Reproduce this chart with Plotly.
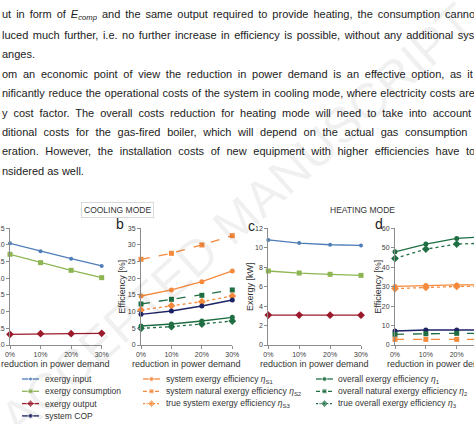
import re
import plotly.graph_objects as go

# x values: reduction in power demand [%]
REDUCTION = [0, 10, 20, 30]
TICK_LABELS = ['0%', '10%', '20%', '30%']

# a - cooling mode, exergy [kW]
COOL_EXERGY_INPUT = [3.05, 2.81, 2.59, 2.37]
COOL_EXERGY_CONSUMPTION = [2.72, 2.47, 2.24, 2.02]
COOL_EXERGY_OUTPUT = [0.32, 0.34, 0.34, 0.35]

# b - cooling mode, efficiency [%]
COOL_SYS_EFF = [14.7, 16.5, 19.0, 22.2]
COOL_SYS_NAT_EFF = [25.7, 27.5, 30.0, 32.8]
COOL_SYS_TRUE_EFF = [10.5, 11.8, 13.0, 14.7]
COOL_OVERALL_EFF = [5.7, 6.3, 7.2, 8.3]
COOL_OVERALL_NAT_EFF = [12.3, 13.7, 14.9, 16.5]
COOL_OVERALL_TRUE_EFF = [5.0, 5.5, 6.3, 7.2]
COOL_COP = [9.2, 10.2, 11.7, 13.5]

# c - heating mode, exergy [kW]
HEAT_EXERGY_INPUT = [10.8, 10.48, 10.31, 10.24]
HEAT_EXERGY_CONSUMPTION = [7.61, 7.40, 7.27, 7.16]
HEAT_EXERGY_OUTPUT = [3.08, 3.08, 3.07, 3.07]

# d - heating mode, efficiency [%]
HEAT_SYS_EFF = [30.1, 30.6, 30.9, 30.9]
HEAT_SYS_NAT_EFF = [2.9, 2.9, 2.9, 2.9]
HEAT_SYS_TRUE_EFF = [29.0, 29.6, 30.1, 30.1]
HEAT_OVERALL_EFF = [47.9, 51.9, 54.8, 55.7]
HEAT_OVERALL_NAT_EFF = [5.5, 5.8, 6.0, 6.0]
HEAT_OVERALL_TRUE_EFF = [44.5, 49.3, 51.9, 52.4]
HEAT_COP = [7.2, 7.7, 7.7, 7.7]

# body text above the figure, cut at both page edges.
# '|' marks the point that sits at the given x (px) in the justified original.
PARAGRAPH = [
    ('ut in form of <i>E</i><sub><i>comp</i></sub> and the same output required to provide heating, the consumption canno|t be', 474),
    ('luced much further, i.e. no further increase in efficiency is possible, without any additional sys|tem', 474),
    ('anges.', None),
    ('om an economic point of view the reduction in power demand is an effective option, as it| can', 472),
    ('nificantly reduce the operational costs of the system in cooling mode, where electricity costs are| the', 474),
    ('y cost factor. The overall costs reduction for heating mode will need to take into account| the', 471),
    ('ditional costs for the gas-fired boiler, which will depend on the actual gas consumption| under', 467),
    ('eration. However, the installation costs of new equipment with higher efficiencies have to| be', 475),
    ('nsidered as well.', None),
]
TEXT_SIZE = 11

W, H = 474, 424
FONT = 'Liberation Sans, Arial, sans-serif'
ORANGE = '#f58a3c'
GREEN = '#1f6e43'

# Arial / Liberation Sans advance widths (1/1000 em) for justification
ARIAL = {' ': 278, 'a': 556, 'b': 556, 'c': 500, 'd': 556, 'e': 556, 'f': 278, 'g': 556, 'h': 556,
         'i': 222, 'j': 222, 'k': 500, 'l': 222, 'm': 833, 'n': 556, 'o': 556, 'p': 556, 'q': 556,
         'r': 333, 's': 500, 't': 278, 'u': 556, 'v': 500, 'w': 722, 'x': 500, 'y': 500, 'z': 500,
         ',': 278, '.': 278, '-': 333, 'E': 667, 'T': 611, 'H': 722, 'F': 611}

# name -> (color, dash, symbol, marker size)
STYLES = {
    'exergy input': ('#4f7db8', 'solid', 'circle', 4),
    'exergy consumption': ('#8db552', 'solid', 'square', 5),
    'exergy output': ('#9b1b2c', 'solid', 'diamond', 6),
    'system COP': ('#1d2264', 'solid', 'circle', 5),
    'sys': (ORANGE, 'solid', 'circle', 5),
    'sys_nat': (ORANGE, 'dash', 'square', 5),
    'sys_true': (ORANGE, 'dot', 'diamond', 6),
    'ov': (GREEN, 'solid', 'circle', 5),
    'ov_nat': (GREEN, 'dash', 'square', 5),
    'ov_true': (GREEN, 'dot', 'diamond', 6),
}

LEGEND_COLUMNS = [
    (22, 43, [('exergy input', 'exergy input'),
              ('exergy consumption', 'exergy consumption'),
              ('exergy output', 'exergy output'),
              ('system COP', 'system COP')]),
    (143, 164, [('sys', 'system exergy efficiency <i>η</i><sub>S1</sub>'),
                ('sys_nat', 'system natural exergy efficiency <i>η</i><sub>S2</sub>'),
                ('sys_true', 'true system exergy efficiency <i>η</i><sub>S3</sub>')]),
    (316, 336, [('ov', 'overall exergy efficiency <i>η</i><sub>1</sub>'),
                ('ov_nat', 'overall natural exergy efficiency <i>η</i><sub>2</sub>'),
                ('ov_true', 'true overall exergy efficiency <i>η</i><sub>3</sub>')]),
]
LEGEND_TOP = 379
LEGEND_ROW = 12.3


def px_x(p):
    return p / W


def px_y(p):
    return 1 - p / H


def text_width(html, size):
    """Rough rendered width of a line (sub text at 70%)."""
    total = 0.0
    for part in re.split(r'(<sub>.*?</sub>)', html):
        scale = 0.7 if part.startswith('<sub>') else 1.0
        plain = re.sub(r'<[^>]+>', '', part)
        total += sum(ARIAL.get(ch, 556) for ch in plain) * scale
    return total * size / 1000


def justify(line, target):
    """Return html with word-spacing that puts the '|' mark at target px."""
    text = line.replace('|', '')
    if target is None:
        return text
    prefix = line.split('|')[0]
    extra = (target - 1 - text_width(prefix, TEXT_SIZE)) / max(prefix.count(' '), 1)
    return f'<span style="word-spacing:{extra:.2f}px">{text}</span>'


def add_series(fig, key, values, axis):
    color, dash, symbol, size = STYLES[key]
    fig.add_trace(go.Scatter(
        x=REDUCTION, y=values, mode='lines+markers',
        line=dict(color=color, width=1.3, dash=dash),
        marker=dict(color=color, symbol=symbol, size=size),
        xaxis='x' + axis, yaxis='y' + axis,
        showlegend=False, cliponaxis=False, hoverinfo='x+y',
    ))


def build_figure():
    fig = go.Figure()

    panels = {
        '': [('exergy input', COOL_EXERGY_INPUT), ('exergy consumption', COOL_EXERGY_CONSUMPTION),
             ('exergy output', COOL_EXERGY_OUTPUT)],
        '2': [('sys_nat', COOL_SYS_NAT_EFF), ('sys', COOL_SYS_EFF), ('ov_nat', COOL_OVERALL_NAT_EFF),
              ('sys_true', COOL_SYS_TRUE_EFF), ('system COP', COOL_COP), ('ov', COOL_OVERALL_EFF),
              ('ov_true', COOL_OVERALL_TRUE_EFF)],
        '3': [('exergy input', HEAT_EXERGY_INPUT), ('exergy consumption', HEAT_EXERGY_CONSUMPTION),
              ('exergy output', HEAT_EXERGY_OUTPUT)],
        '4': [('ov', HEAT_OVERALL_EFF), ('ov_true', HEAT_OVERALL_TRUE_EFF), ('sys', HEAT_SYS_EFF),
              ('sys_true', HEAT_SYS_TRUE_EFF), ('system COP', HEAT_COP), ('ov_nat', HEAT_OVERALL_NAT_EFF),
              ('sys_nat', HEAT_SYS_NAT_EFF)],
    }
    for axis, series in panels.items():
        for key, values in series:
            add_series(fig, key, values, axis)

    # legend keys drawn on a hidden helper axis (pixel units)
    for x0, _, rows in LEGEND_COLUMNS:
        for i, (key, _) in enumerate(rows):
            color, dash, symbol, size = STYLES[key]
            ry = LEGEND_TOP + LEGEND_ROW * i
            key_dash = {'solid': 'solid', 'dash': '4px,2px', 'dot': '2px,1.5px'}[dash]
            fig.add_trace(go.Scatter(
                x=[x0, x0 + 8.5, x0 + 17], y=[ry, ry, ry], mode='lines+markers',
                line=dict(color=color, width=1.3, dash=key_dash),
                marker=dict(color=color, symbol=symbol, size=[0, size, 0]),
                xaxis='x5', yaxis='y5', showlegend=False, hoverinfo='skip',
            ))

    base_y = dict(domain=[px_y(345), px_y(228.3)])
    axis_style = dict(showline=True, linecolor='#8c8c8c', linewidth=1, ticks='outside', ticklen=3,
                      tickcolor='#8c8c8c', tickfont=dict(size=7, color='#404040', family=FONT),
                      showgrid=False, zeroline=False, automargin=False, fixedrange=True)
    x_style = dict(axis_style, tickvals=REDUCTION, ticktext=TICK_LABELS)

    fig.update_layout(
        xaxis=dict(x_style, domain=[px_x(10), px_x(101.7)], range=[0, 30], anchor='y'),
        yaxis=dict(axis_style, **base_y, range=[0, 3.5], dtick=0.5, tickformat='.1f', anchor='x'),
        xaxis2=dict(x_style, domain=[px_x(141), px_x(232.3)], range=[0, 30], anchor='y2'),
        yaxis2=dict(axis_style, **base_y, range=[0, 35], dtick=5, anchor='x2'),
        xaxis3=dict(x_style, domain=[px_x(268.3), px_x(361)], range=[0, 30], anchor='y3'),
        yaxis3=dict(axis_style, **base_y, range=[0, 12], dtick=2, anchor='x3'),
        xaxis4=dict(x_style, domain=[px_x(395), 1], range=[0, 25.6], anchor='y4'),
        yaxis4=dict(axis_style, **base_y, range=[0, 60], dtick=10, anchor='x4'),
        xaxis5=dict(domain=[0, 1], range=[0, W], visible=False, fixedrange=True),
        yaxis5=dict(domain=[0, px_y(360)], range=[H, 360], visible=False, fixedrange=True, anchor='x5'),
        width=W, height=H,
        margin=dict(l=0, r=0, t=0, b=0),
        paper_bgcolor='white', plot_bgcolor='rgba(0,0,0,0)',
        showlegend=False,
        font=dict(family=FONT, color='#333333'),
    )

    notes = []
    # paragraph of body text above the figure
    for i, (line, target) in enumerate(PARAGRAPH):
        notes.append(dict(text=justify(line, target), x=0, y=px_y(15 + 19.5 * i), xanchor='left',
                          font=dict(size=TEXT_SIZE, color='#222222', family=FONT)))

    # x axis titles
    for axis in ['', '2', '3', '4']:
        notes.append(dict(text='reduction in power demand', xref='x' + axis, x=15, y=px_y(363.5),
                          font=dict(size=9, color='#333333')))

    # y axis titles
    for xp, title in [(121.7, 'Efficiency [%]'), (250, 'Exergy [kW]'), (377.7, 'Efficiency [%]')]:
        notes.append(dict(text=title, x=px_x(xp), y=px_y(287), textangle=-90,
                          font=dict(size=9, color='#333333')))

    # panel letters
    for xp, yp, letter in [(120, 224, 'b'), (252, 225.5, 'c'), (379.3, 224, 'd')]:
        notes.append(dict(text=letter, x=px_x(xp), y=px_y(yp), font=dict(size=14, color='#222222')))

    notes.append(dict(text='COOLING MODE', x=px_x(117), y=px_y(209.5), font=dict(size=8.5, color='#333333'),
                      bordercolor='#d9d9d9', borderwidth=1, borderpad=2, bgcolor='white'))
    notes.append(dict(text='HEATING MODE', x=px_x(362), y=px_y(209.5), font=dict(size=8.5, color='#333333')))

    # legend text
    for x0, xt, rows in LEGEND_COLUMNS:
        for i, (_, label) in enumerate(rows):
            notes.append(dict(text=label, x=px_x(xt), y=px_y(LEGEND_TOP + LEGEND_ROW * i), xanchor='left',
                              font=dict(size=8.5, color='#333333')))

    # faint watermark
    notes.append(dict(text='ACCEPTED MANUSCRIPT', x=px_x(237), y=px_y(220), textangle=-42,
                      font=dict(size=50, color='rgba(0,0,0,0.06)', family=FONT)))

    for n in notes:
        n.setdefault('xref', 'paper')
        n.setdefault('yref', 'paper')
        n.setdefault('xanchor', 'center')
        n.setdefault('yanchor', 'middle')
        n['showarrow'] = False
        fig.add_annotation(**n)

    return fig


def main():
    fig = build_figure()
    # drop the browser's default page margin so the figure sits at the window origin
    fig.write_html('out.html', config={'displayModeBar': False},
                   post_script="document.body.style.margin='0';")


if __name__ == '__main__':
    main()
